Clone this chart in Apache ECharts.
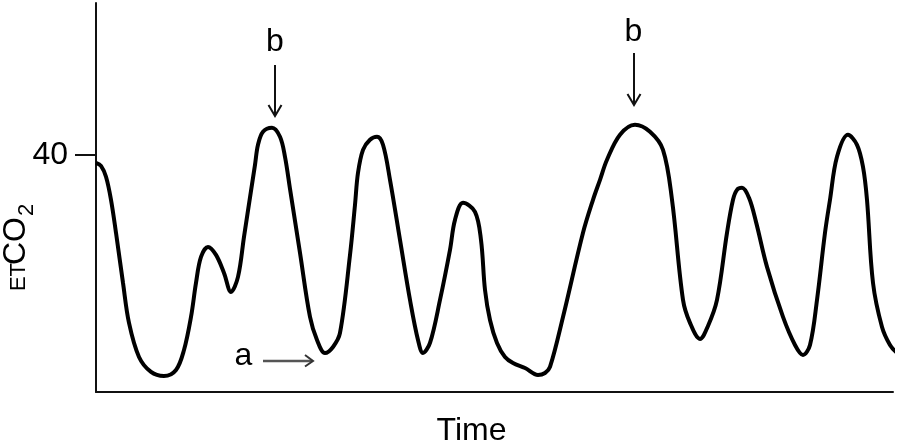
<!DOCTYPE html>
<html>
<head>
<meta charset="utf-8">
<script src="https://cdn.jsdelivr.net/npm/echarts@6/dist/echarts.min.js"></script>
<style>
html,body{margin:0;padding:0;background:#fff;}
#chart{width:903px;height:446px;}
</style>
</head>
<body>
<div id="chart"></div>
<script>
// Time (arbitrary units) and ETCO2 values
var timeValues = [0,5,10,15,20,27,33,43,55,68,80,88,95,100,105,112,120,128,135,142,148,155,159,162,167,176,184,189,194,204,214,221,229,237,244,254,259,262,267,274,281,287,294,304,314,322,327,334,344,354,359,367,379,385,389,394,401,409,417,429,442,449,454,467,487,497,504,511,524,539,554,567,576,587,594,604,612,621,631,637,641,646,653,660,671,687,699,707,714,721,729,734,741,752,761,767,771,777,786,794,801];
var etco2Values = [38.65,38.14,36.29,32.41,26.84,18.40,11.65,5.91,3.38,2.70,3.71,7.09,12.66,18.40,22.78,24.47,23.12,20.08,16.88,19.41,26.16,33.92,38.31,41.69,43.88,44.56,43.04,39.66,34.26,23.46,12.66,8.78,6.58,7.60,9.96,23.12,31.56,36.96,40.84,42.53,43.04,41.69,35.78,25.65,15.53,8.78,6.58,8.27,15.53,23.97,29.03,31.90,30.38,25.65,17.22,12.15,8.27,5.91,4.89,4.05,2.87,3.21,4.22,12.66,26.84,32.41,35.78,39.16,43.38,45.06,43.88,40.84,32.41,15.53,11.65,8.95,11.14,15.53,26.84,32.41,34.09,34.43,32.74,28.69,21.10,12.66,7.93,6.24,7.93,15.53,26.84,32.41,39.66,43.38,41.69,37.98,32.41,18.40,10.97,7.93,6.58];
var yTickValues = [40];
var xAxisLabel = 'Time';
var annotationLabels = ['b', 'b', 'a'];

var seriesData = timeValues.map(function (t, i) { return [t, etco2Values[i]]; });
var FONT = 'Liberation Sans, Arial, sans-serif';

var chart = echarts.init(document.getElementById('chart'), null, {renderer: 'canvas'});

function arrowDown(x, y1, y2, color) {
  return [
    {type: 'line', shape: {x1: x, y1: y1, x2: x, y2: y2}, style: {stroke: color, lineWidth: 2}},
    {type: 'polyline', shape: {points: [[x - 6.5, y2 - 11], [x, y2], [x + 6.5, y2 - 11]]}, style: {stroke: color, lineWidth: 2, fill: null}}
  ];
}

var graphics = [];
// y-axis name ETCO2 (small caps ET, subscript 2)
graphics.push({type: 'text', x: 19.4, y: 277, rotation: Math.PI / 2, style: {text: 'ET', font: '22px ' + FONT, fill: '#000', align: 'center', verticalAlign: 'middle'}});
graphics.push({type: 'text', x: 16, y: 241, rotation: Math.PI / 2, style: {text: 'CO', font: '32px ' + FONT, fill: '#000', align: 'center', verticalAlign: 'middle'}});
graphics.push({type: 'text', x: 27.4, y: 210, rotation: Math.PI / 2, style: {text: '2', font: '22px ' + FONT, fill: '#000', align: 'center', verticalAlign: 'middle'}});
// x-axis name
graphics.push({type: 'text', x: 471.5, y: 431, style: {text: xAxisLabel, font: '32px ' + FONT, fill: '#000', align: 'center', verticalAlign: 'middle'}});
// annotation b (1)
graphics.push({type: 'text', x: 275, y: 42, style: {text: annotationLabels[0], font: '32px ' + FONT, fill: '#000', align: 'center', verticalAlign: 'middle'}});
graphics = graphics.concat(arrowDown(275, 65, 116, '#111'));
// annotation b (2)
graphics.push({type: 'text', x: 633.5, y: 32, style: {text: annotationLabels[1], font: '32px ' + FONT, fill: '#000', align: 'center', verticalAlign: 'middle'}});
graphics = graphics.concat(arrowDown(634, 53, 105, '#111'));
// annotation a
graphics.push({type: 'text', x: 243.5, y: 356, style: {text: annotationLabels[2], font: '32px ' + FONT, fill: '#000', align: 'center', verticalAlign: 'middle'}});
graphics.push({type: 'line', shape: {x1: 263, y1: 361, x2: 312, y2: 361}, style: {stroke: '#555', lineWidth: 2.5}});
graphics.push({type: 'polyline', shape: {points: [[305, 355], [313, 361], [305, 366.5]]}, style: {stroke: '#333', lineWidth: 2, fill: null}});

chart.setOption({
  animation: false,
  backgroundColor: '#fff',
  grid: {left: 96, right: 10, top: 3, bottom: 54, containLabel: false},
  xAxis: {
    type: 'value', min: 0, max: 797,
    axisLine: {show: true, onZero: false, lineStyle: {color: '#111', width: 2}},
    axisTick: {show: false}, axisLabel: {show: false}, splitLine: {show: false}
  },
  yAxis: {
    type: 'value', min: 0, max: 65.6,
    axisLine: {show: true, onZero: false, lineStyle: {color: '#111', width: 2}},
    axisTick: {show: true, length: 21, customValues: yTickValues, lineStyle: {color: '#111', width: 2}},
    axisLabel: {show: true, customValues: yTickValues, margin: 28, fontSize: 32, fontFamily: FONT, color: '#000'},
    splitLine: {show: false}
  },
  series: [{
    type: 'line',
    data: seriesData,
    smooth: 0.35,
    clip: false,
    showSymbol: false,
    lineStyle: {color: '#000', width: 4}
  }],
  graphic: graphics
});
</script>
</body>
</html>
